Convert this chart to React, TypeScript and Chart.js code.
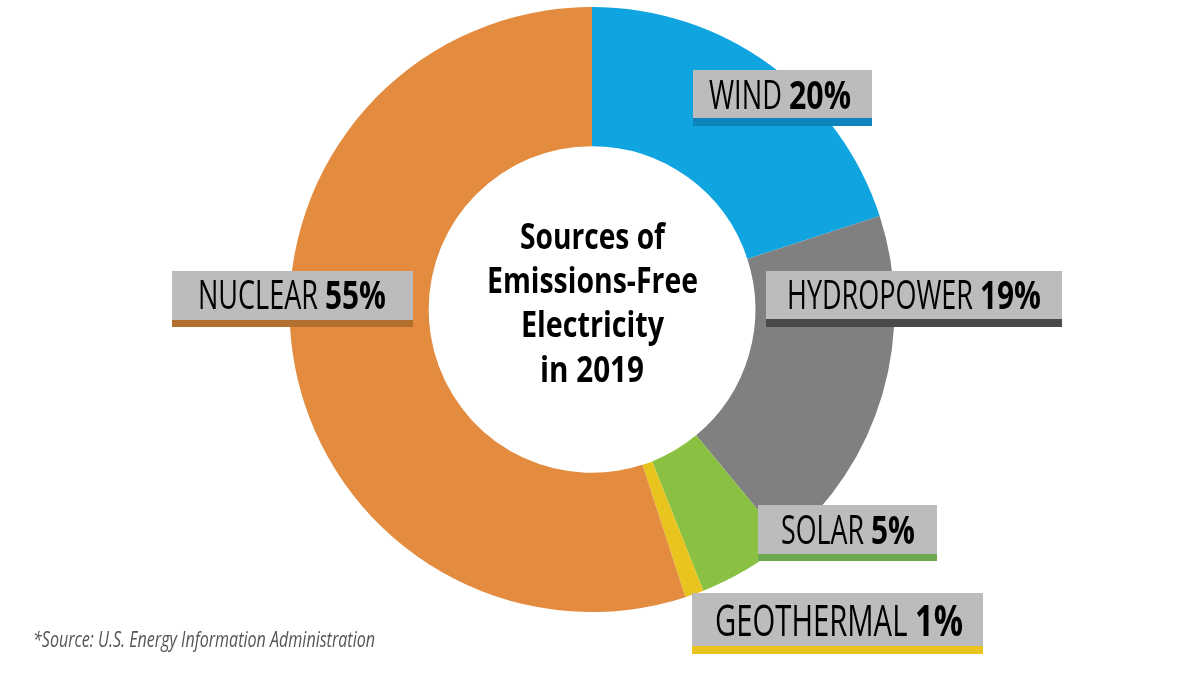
import React, { useEffect, useRef } from "react";
import { Chart, registerables } from "chart.js";

Chart.register(...registerables);

const categories = ["WIND", "HYDROPOWER", "SOLAR", "GEOTHERMAL", "NUCLEAR"];
const shares = [20, 19, 5, 1, 55];
const sliceColors = ["#10A5E0", "#808080", "#8BC143", "#E9C41F", "#E38B3F"];
const stripeColors = ["#0F84BC", "#4A4A4A", "#6EA84F", "#E9C41F", "#B26F2E"];
const titleLines = ["Sources of", "Emissions-Free", "Electricity", "in 2019"];
const sourceNote = "*Source: U.S. Energy Information Administration";

// Layout of the label plates: box, stripe, and text extents (pixels)
const plates = [
  { x0: 693, x1: 872, y0: 70, y1: 118, y2: 126, tx0: 709, bx: 789, tx1: 851, base: 109, size: 40 },
  { x0: 766, x1: 1062, y0: 271, y1: 319, y2: 327, tx0: 787, bx: 980, tx1: 1041, base: 309, size: 40 },
  { x0: 758, x1: 937, y0: 505, y1: 554, y2: 561, tx0: 781, bx: 871, tx1: 915, base: 544, size: 40 },
  { x0: 692, x1: 983, y0: 593, y1: 646, y2: 654, tx0: 715, bx: 915, tx1: 963, base: 636, size: 43 },
  { x0: 172, x1: 413, y0: 271, y1: 320, y2: 327, tx0: 198, bx: 325, tx1: 386, base: 309, size: 40 },
];
const titleLayout = [
  { cx: 592.5, w: 145, base: 249 },
  { cx: 592.5, w: 211, base: 293 },
  { cx: 592.5, w: 143, base: 337 },
  { cx: 592, w: 104, base: 382 },
];
const FONT = '"Open Sans"';

const overlay = {
  id: "overlay",
  afterDraw(chart: any) {
    const ctx = chart.ctx as CanvasRenderingContext2D;
    ctx.save();
    ctx.textBaseline = "alphabetic";
    ctx.textAlign = "left";
    categories.forEach((cat, i) => {
      const p = plates[i];
      ctx.fillStyle = "#BCBCBC";
      ctx.fillRect(p.x0, p.y0, p.x1 - p.x0, p.y1 - p.y0);
      ctx.fillStyle = stripeColors[i];
      ctx.fillRect(p.x0, p.y1, p.x1 - p.x0, p.y2 - p.y1);
      const reg = `${cat} `;
      const bold = `${shares[i]}%`;
      const regFont = `400 ${p.size}px ${FONT}`;
      const boldFont = `700 ${p.size}px ${FONT}`;
      ctx.fillStyle = "#000000";
      ctx.font = regFont;
      const regW = ctx.measureText(reg).width;
      ctx.save();
      ctx.translate(p.tx0, p.base);
      ctx.scale((p.bx - p.tx0) / regW, 1);
      ctx.fillText(reg, 0, 0);
      ctx.restore();
      ctx.font = boldFont;
      const boldW = ctx.measureText(bold).width;
      ctx.save();
      ctx.translate(p.bx, p.base);
      ctx.scale((p.tx1 - p.bx) / boldW, 1);
      ctx.fillText(bold, 0, 0);
      ctx.restore();
    });
    titleLines.forEach((line, i) => {
      const t = titleLayout[i];
      ctx.font = `700 36px ${FONT}`;
      const w = ctx.measureText(line).width;
      ctx.save();
      ctx.translate(t.cx - t.w / 2, t.base);
      ctx.scale(t.w / w, 1);
      ctx.fillStyle = "#000000";
      ctx.fillText(line, 0, 0);
      ctx.restore();
    });
    ctx.font = `italic 400 21px ${FONT}`;
    const sw = ctx.measureText(sourceNote).width;
    ctx.save();
    ctx.translate(33, 647);
    ctx.scale(342 / sw, 1);
    ctx.fillStyle = "#555555";
    ctx.fillText(sourceNote, 0, 0);
    ctx.restore();
    ctx.restore();
  },
};

export default function App() {
  const ref = useRef<HTMLCanvasElement | null>(null);
  useEffect(() => {
    document.body.style.margin = "0";
    document.body.style.background = "#ffffff";
    const chart = new Chart(ref.current as HTMLCanvasElement, {
      type: "doughnut",
      data: {
        labels: categories,
        datasets: [
          {
            data: shares,
            backgroundColor: sliceColors,
            borderWidth: 0,
          },
        ],
      },
      options: {
        animation: false,
        responsive: false,
        devicePixelRatio: 1,
        cutout: "54%",
        layout: { padding: { top: 7, bottom: 63, left: 0, right: 16 } },
        plugins: { legend: { display: false }, tooltip: { enabled: false } },
      },
      plugins: [overlay],
    } as any);
    return () => chart.destroy();
  }, []);
  return (
    <div style={{ position: "absolute", left: 0, top: 0, width: 1200, height: 675 }}>
      <canvas ref={ref} width={1200} height={675} style={{ display: "block" }} />
    </div>
  );
}
